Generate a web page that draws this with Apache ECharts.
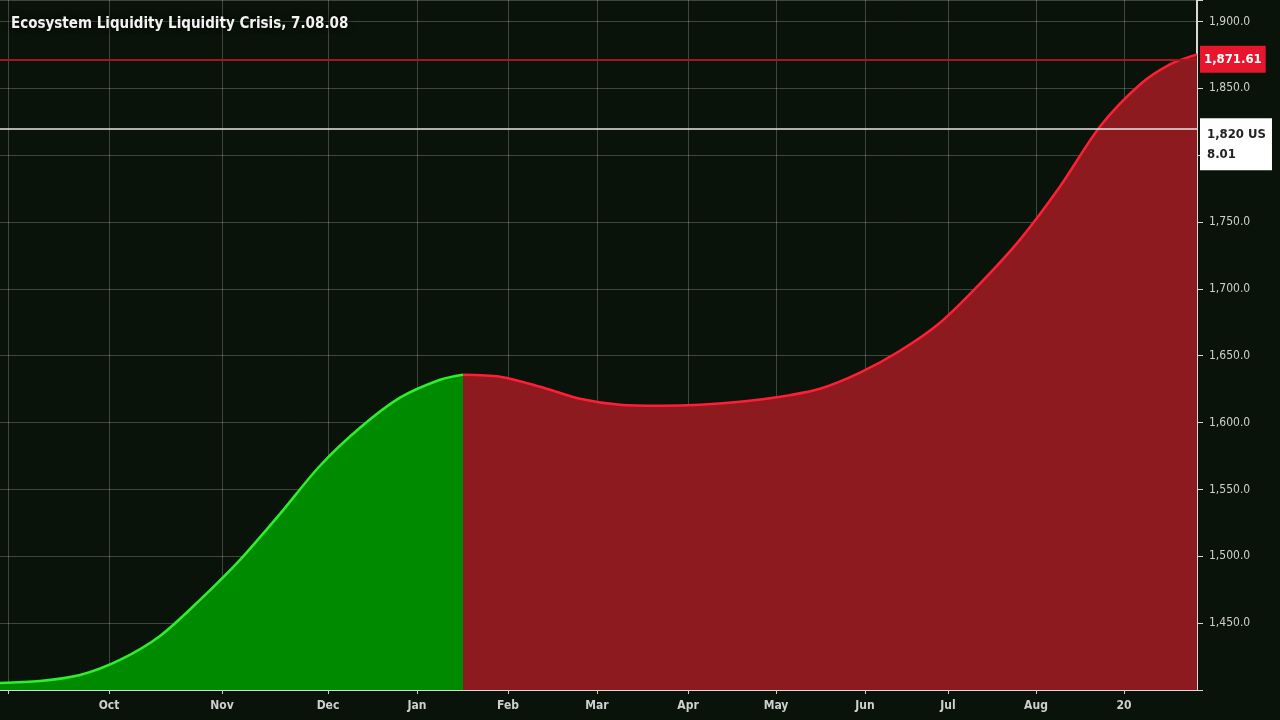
<!DOCTYPE html>
<html><head><meta charset="utf-8">
<script src="https://cdn.jsdelivr.net/npm/echarts@6/dist/echarts.min.js"></script>
<style>html,body{margin:0;padding:0;background:#0a1309;}#c{width:1280px;height:720px;}</style>
</head><body><div id="c"></div>
<script>
const titleText = 'Ecosystem Liquidity Liquidity Crisis, 7.08.08';
// x positions (time index) and price values
const gainX = [0, 40, 80, 120, 160, 200, 240, 280, 320, 360, 400, 440, 463];
const gainY = [1405.2, 1406.7, 1411.2, 1422.5, 1440.4, 1467.4, 1497.3, 1531.7, 1567.7, 1596.1, 1618.6, 1632.0, 1635.8];
const lossX = [463, 500, 540, 580, 620, 660, 700, 740, 780, 820, 860, 900, 940, 980, 1020, 1060, 1100, 1140, 1170, 1197];
const lossY = [1635.8, 1634.3, 1626.8, 1617.8, 1613.3, 1612.6, 1613.3, 1615.6, 1619.3, 1625.3, 1637.3, 1653.7, 1674.7, 1703.9, 1736.8, 1776.5, 1821.4, 1852.8, 1867.8, 1875.3];
const tickX = [109, 222, 328, 417, 508, 597, 688, 776, 865, 948, 1036, 1124];
const tickLabels = ['Oct', 'Nov', 'Dec', 'Jan', 'Feb', 'Mar', 'Apr', 'May', 'Jun', 'Jul', 'Aug', '20'];
const gridX = [8, 109, 222, 328, 417, 508, 597, 688, 776, 865, 948, 1036, 1124];
const yMin = 1400, yMax = 1916, yStep = 50;
const priceLevel = 1871.6;
const refLevel = 1820;
const refText = ['1,820 US', '8.01'];

const fmt = v => v.toLocaleString('en-US', {minimumFractionDigits: 1, maximumFractionDigits: 1});
const chart = echarts.init(document.getElementById('c'));
const FONT = '"DejaVu Sans Condensed", "Liberation Sans", sans-serif';
chart.setOption({
  backgroundColor: '#0a1309',
  animation: false,
  title: {
    text: titleText, left: 6, top: 12,
    textStyle: {color: '#f2f2f2', fontSize: 15, fontWeight: 'bold', fontFamily: FONT,
      textShadowColor: '#000', textShadowBlur: 6}
  },
  grid: {left: 0, right: 83, top: 0, bottom: 30},
  xAxis: {
    type: 'value', min: 0, max: 1197,
    axisLine: {show: true, onZero: false, lineStyle: {color: '#d9d9d9', width: 2}},
    axisTick: {show: true, inside: false, customValues: gridX, length: 4, lineStyle: {color: '#cfcfcf'}},
    axisLabel: {customValues: tickX, color: '#cfcfcf', fontSize: 12, fontWeight: 'bold', fontFamily: FONT, margin: 10,
      formatter: v => { const i = tickX.indexOf(v); return i >= 0 ? tickLabels[i] : ''; }},
    splitLine: {show: true, lineStyle: {color: 'rgba(255,255,255,0.22)', width: 1}}
  },
  yAxis: {
    type: 'value', position: 'right', min: yMin, max: yMax, interval: yStep,
    axisLine: {show: true, onZero: false, lineStyle: {color: '#d9d9d9', width: 2}},
    axisTick: {show: true, inside: false, length: 6, lineStyle: {color: '#d9d9d9'}},
    axisLabel: {color: '#cfcfcf', fontSize: 12, fontFamily: FONT, margin: 12,
      formatter: v => (v > yMin && (v - yMin) % yStep === 0) ? fmt(v) : ''},
    splitLine: {show: true, lineStyle: {color: 'rgba(255,255,255,0.22)', width: 1}}
  },
  series: [
    {
      type: 'line', data: gainX.map((x, i) => [x, gainY[i]]), smooth: 0.3, showSymbol: false,
      lineStyle: {color: '#2bf02b', width: 2.5},
      areaStyle: {color: '#008a00', opacity: 1, origin: 'start'}, z: 2
    },
    {
      type: 'line', data: lossX.map((x, i) => [x, lossY[i]]), smooth: 0.3, showSymbol: false,
      lineStyle: {color: '#ff1e34', width: 2.5},
      areaStyle: {color: '#8c1a1e', opacity: 1, origin: 'start'}, z: 3,
      markLine: {
        silent: true, symbol: 'none', animation: false,
        data: [
          {yAxis: priceLevel, lineStyle: {color: '#a3171b', width: 2, type: 'solid'},
            label: {show: true, position: 'end', distance: 3, formatter: fmt(priceLevel) + '1',
              backgroundColor: '#e8162c', color: '#fff', fontSize: 13, fontWeight: 'bold', fontFamily: FONT,
              padding: [7, 4, 7, 4]}},
          {yAxis: refLevel, lineStyle: {color: '#e6e6e6', width: 1.5, type: 'solid'},
            label: {show: true, position: 'end', distance: 3, formatter: refText.join('\n'),
              backgroundColor: '#ffffff', color: '#222', fontSize: 13, fontWeight: 'bold', fontFamily: FONT,
              lineHeight: 20, padding: [6, 6, 6, 7], offset: [0, 16], align: 'left'}}
        ]
      }
    }
  ]
});
</script></body></html>
